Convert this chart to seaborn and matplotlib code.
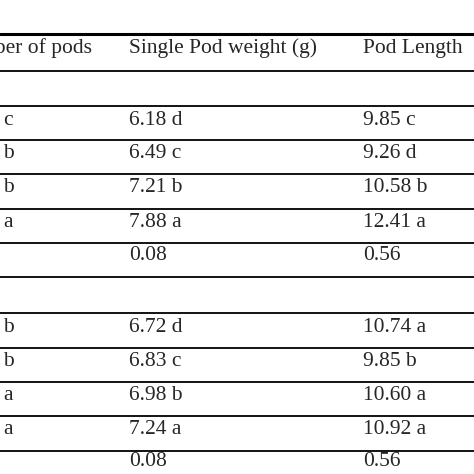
import matplotlib
matplotlib.use('Agg')
import matplotlib.pyplot as plt
import seaborn as sns

sns.set_style('white')
plt.rcParams['font.family'] = ['Liberation Serif', 'DejaVu Serif']

# Table content (first column is cut off in the source)
headers = ['Number of pods', 'Single Pod weight (g)', 'Pod Length']
col1 = ['c', 'b', 'b', 'a', '', 'b', 'b', 'a', 'a', '']
col2 = ['6.18 d', '6.49 c', '7.21 b', '7.88 a', '0.08',
        '6.72 d', '6.83 c', '6.98 b', '7.24 a', '0.08']
col3 = ['9.85 c', '9.26 d', '10.58 b', '12.41 a', '0.56',
        '10.74 a', '9.85 b', '10.60 a', '10.92 a', '0.56']

fig = plt.figure(figsize=(4.74, 4.74), dpi=100)
ax = fig.add_axes([0, 0, 1, 1])
ax.set_xlim(0, 474)
ax.set_ylim(474, 0)
ax.axis('off')

fs = 15.5
ax.text(92, 48, headers[0], ha='right', va='center', fontsize=fs)
ax.text(129, 48, headers[1], ha='left', va='center', fontsize=fs)
ax.text(363, 48, headers[2], ha='left', va='center', fontsize=fs)

row_y = [120, 154, 188, 222, 256, 327, 361, 395, 429, 462]
for y, a, b, c in zip(row_y, col1, col2, col3):
    ax.text(3, y, a, ha='left', va='center', fontsize=fs)
    ax.text(129, y, b, ha='left', va='center', fontsize=fs)
    ax.text(363, y, c, ha='left', va='center', fontsize=fs)

ax.axhline(34, color='black', lw=2.2)
for y in [71, 106, 140, 174, 209, 243, 277, 313, 348, 382, 416, 451]:
    ax.axhline(y, color='black', lw=1.3)

fig.savefig('out.png', dpi=100)
